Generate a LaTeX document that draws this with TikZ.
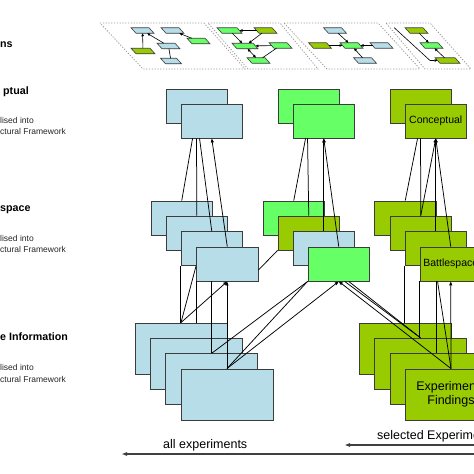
\documentclass[tikz,border=0pt]{standalone}
\usepackage{fontspec}
\setmainfont{Liberation Sans}
\usetikzlibrary{arrows.meta}
\definecolor{lblue}{HTML}{B7DDE8}
\definecolor{lgreen}{HTML}{66FF66}
\definecolor{oliv}{HTML}{99CC00}
\definecolor{bord}{HTML}{3C3C3C}
\definecolor{frm}{HTML}{9A9A9A}
% small parallelogram: name, x, y, colour, body width
\newcommand\smallpg[5]{%
  \node[pgb, minimum width=#5pt] (#1) at (#2,#3) {};
  \draw[pgd, fill=#4] ([xshift=-2.5pt]#1.north west) -- ([xshift=-2.5pt]#1.north east)
     -- ([xshift=2.5pt]#1.south east) -- ([xshift=2.5pt]#1.south west) -- cycle;}
\begin{document}
\begin{tikzpicture}[x=1pt,y=-1pt,
  box/.style={draw=bord, line width=0.9pt, minimum width=61.5pt, minimum height=34pt, inner sep=0pt, font=\fontsize{10.5}{12}\selectfont},
  ibox/.style={box, minimum width=92pt, minimum height=51pt, align=center, font=\fontsize{12.5}{14}\selectfont},
  pgb/.style={rectangle, minimum height=5.5pt, inner sep=0pt, outer sep=0pt},
  pgd/.style={draw=bord, line width=0.6pt},
  frame/.style={draw=frm, line width=0.8pt, dash pattern=on 1.2pt off 1.6pt},
  conn/.style={line width=0.75pt, black},
  arr/.style={conn, -{Triangle[length=4pt,width=3pt]}},
  sarr/.style={line width=0.6pt, black, -{Triangle[length=3pt,width=2.5pt]}},
  sdbl/.style={line width=0.6pt, black, {Triangle[length=3pt,width=2.5pt]}-{Triangle[length=3pt,width=2.5pt]}},
  sln/.style={line width=0.6pt, black},
  bigarr/.style={draw=black!75, line width=1.1pt, -{Triangle[length=5pt,width=3.5pt]}},
  lvl/.style={anchor=west, inner sep=0pt, font=\fontsize{10.7}{12}\selectfont\bfseries},
  sub/.style={anchor=west, inner sep=0pt, text=black!85, font=\fontsize{8.5}{10}\selectfont},
  lab/.style={anchor=west, inner sep=0pt, font=\fontsize{12.5}{14}\selectfont}
]
\fill[white] (0,0) rectangle (474,474);
\useasboundingbox (0,0) rectangle (474,474);

% ---- left labels
\node[lvl] (l1) at (0,45) {ns};
\node[lvl] (l2) at (3,92) {ptual};
\node[sub] (l2a) at (0,120) {lised into};
\node[sub] (l2b) at (0,131) {ctural Framework};
\node[lvl] (l3) at (0,210) {space};
\node[sub] (l3a) at (0,238) {lised into};
\node[sub] (l3b) at (0,249) {ctural Framework};
\node[lvl] (l4) at (0,337) {e Information};
\node[sub] (l4a) at (0,367) {lised into};
\node[sub] (l4b) at (0,379) {ctural Framework};

% ---- top dashed frames
\draw[frame] (100,23) -- (204,23) -- (245,69) -- (143,69) -- cycle;
\draw[frame] (208,23) -- (280,23) -- (318,69) -- (248,69) -- cycle;
\draw[frame] (284,23) -- (378,23) -- (420,69) -- (327,69) -- cycle;
\draw[frame] (386,23) -- (430,23) -- (471,69) -- (425,69) -- cycle;

% ---- small diagram 1
\smallpg{sA}{142.5}{30.5}{lblue}{18}
\smallpg{sB}{172.5}{30.5}{lblue}{18}
\smallpg{sC}{198.5}{41}{lgreen}{18}
\smallpg{sD}{168.5}{46}{lblue}{18}
\smallpg{sE}{143}{51}{oliv}{19}
\smallpg{sF}{171}{61}{lblue}{16}
\draw[sarr] (sE) -- (sA);
\draw[sarr] (sD) -- (sA);
\draw[sarr] (sC) -- (sB);
\draw[sln] (sD) -- (sF);

% ---- small diagram 2
\smallpg{sG}{229.5}{30.5}{lgreen}{20}
\smallpg{sH}{265.5}{30.5}{oliv}{18}
\smallpg{sI}{245}{46}{lgreen}{21}
\smallpg{sJ}{280.5}{45.5}{lgreen}{18}
\smallpg{sK}{258.5}{60.5}{lgreen}{18}
\draw[sarr] (sH) -- (sG);
\draw[sarr] (sG) -- (sI);
\draw[sarr] (sH) -- (sI);
\draw[sarr] (sJ) -- (sI);
\draw[sdbl] (sI) -- (sK);
\draw[sln] (sK) -- (sJ);

% ---- small diagram 3
\smallpg{sL}{335}{30.5}{lblue}{18}
\smallpg{sM}{320}{45.5}{oliv}{18}
\smallpg{sN}{351.5}{45.5}{lgreen}{18}
\smallpg{sO}{381.5}{45.5}{lblue}{18}
\smallpg{sQ}{365}{60.5}{lblue}{18}
\draw[sarr] (sL) -- (sN);
\draw[sarr] (sM) -- (sN);
\draw[sarr] (sO) -- (sN);
\draw[sarr] (sQ) -- (sN);

% ---- small diagram 4
\smallpg{sR}{416.5}{30.5}{oliv}{18}
\smallpg{sS}{431.5}{45.5}{lgreen}{18}
\smallpg{sT}{447.5}{60.5}{oliv}{20}
\coordinate (s4a) at (394,27.5);
\coordinate (s4b) at (430,60.5);
\draw[sarr] (sR) -- (sS);
\draw[sarr] (sT) -- (sS);
\draw[sarr] (s4a) -- (s4b) -- (sT);

% ---- column 1 boxes
\node[box, fill=lblue] (a1) at (196.75,106) {};
\node[box, fill=lblue] (a2) at (211.75,121) {};
\node[box, fill=lblue] (b1) at (181.75,218) {};
\node[box, fill=lblue] (b2) at (196.75,233) {};
\node[box, fill=lblue] (b3) at (211.75,248.5) {};
\node[box, fill=lblue] (b4) at (227.25,264) {};
\node[ibox, fill=lblue] (c1) at (181,348.5) {};
\node[ibox, fill=lblue] (c2) at (196.3,363.8) {};
\node[ibox, fill=lblue] (c3) at (211.7,379.2) {};
\node[ibox, fill=lblue] (c4) at (227,394.5) {};

% ---- column 2 boxes
\node[box, fill=lgreen] (d1) at (308.75,106) {};
\node[box, fill=lgreen] (d2) at (323.75,121) {};
\node[box, fill=lgreen] (e1) at (293.75,218) {};
\node[box, fill=oliv] (e2) at (308.75,233) {};
\node[box, fill=lblue] (e3) at (323.75,248.5) {};
\node[box, fill=lgreen] (e4) at (338.75,264) {};

% ---- column 3 boxes
\node[box, fill=oliv] (f1) at (420.75,106) {};
\node[box, fill=oliv] (f2) at (435.75,121) {Conceptual};
\node[box, fill=oliv] (g1) at (405.25,218) {};
\node[box, fill=oliv] (g2) at (420.75,233) {};
\node[box, fill=oliv] (g3) at (435.75,248.5) {};
\node[box, fill=oliv] (g4) at (450.75,264) {Battlespace};
\node[ibox, fill=oliv] (h1) at (405,348.5) {};
\node[ibox, fill=oliv] (h2) at (420.5,363.8) {};
\node[ibox, fill=oliv] (h3) at (436,379.2) {};
\node[ibox, fill=oliv] (h4) at (451,394.5) {Experiments\\Findings};

% ---- connectors column 1
\draw[conn] ([xshift=12pt]a2.south west) -- (b1.north);
\draw[conn] ([xshift=16pt]a2.south west) -- (b2.north);
\draw[conn] ([xshift=19pt]a2.south west) -- (b3.north);
\draw[arr] (b4.north) -- (a2.south);
\draw[conn] (b3.south west) -- (b3.south west |- c1.north);
\draw[conn] (b4.south west) -- (b4.south west |- c1.north);
\draw[conn] (c3.north) -- (c3.north |- b4.south);
\draw[arr] (c4.north) -- (c4.north |- b4.south);
\draw[conn] (c1.north) -- (b4.south west |- b3.south);
\draw[arr] (c1.north) -- (b4.south);
\draw[conn] (c3.north) -- (e4.south west);
\draw[conn] (c4.north) -- (e4.south west);
\draw[arr] (c4.north) -- (e4.south);
\draw[conn] ([yshift=-6pt]b4.east) -- (e2.south west);

% ---- connectors column 2
\draw[conn] ([xshift=13pt]d2.south west) -- (e1.north);
\draw[conn] ([xshift=15pt]d2.south west) -- (e2.north);
\draw[arr] (e3.north) -- (d2.south);
\draw[arr] (e4.north) -- (d2.south);
\draw[conn] ([xshift=6pt]e4.south) -- (h2.north);
\draw[conn] ([xshift=10pt]e4.south) -- (h2.north);
\draw[arr] (h4.north) -- (e4.south);

% ---- connectors column 3
\draw[conn] ([xshift=13pt]f2.south west) -- (g1.north);
\draw[conn] ([xshift=16pt]f2.south west) -- (g2.north);
\draw[arr] (g2.north) -- (f2.south);
\draw[arr] (g3.north) -- (f2.south);
\draw[arr] (g4.north) -- (f2.south);
\draw[conn] (g3.south west) -- (g3.south west |- h1.north);
\draw[conn] (g4.south west) -- (g4.south west |- h2.north);
\draw[conn] (h3.north) -- (h3.north |- g4.south);
\draw[conn] ([xshift=18pt]g4.south west) -- (h4.north);
\draw[arr] (h4.north) -- (g4.south);

% ---- bottom arrows
\node[lab] (tall) at (163,445) {all experiments};
\node[lab] (tsel) at (377,436) {selected Experiments};
\coordinate (allR) at (490,454);
\coordinate (allL) at (122,454);
\coordinate (selR) at (490,445);
\coordinate (selL) at (345,445);
\draw[bigarr] (allR) -- (allL);
\draw[bigarr] (selR) -- (selL);
\end{tikzpicture}
\end{document}
